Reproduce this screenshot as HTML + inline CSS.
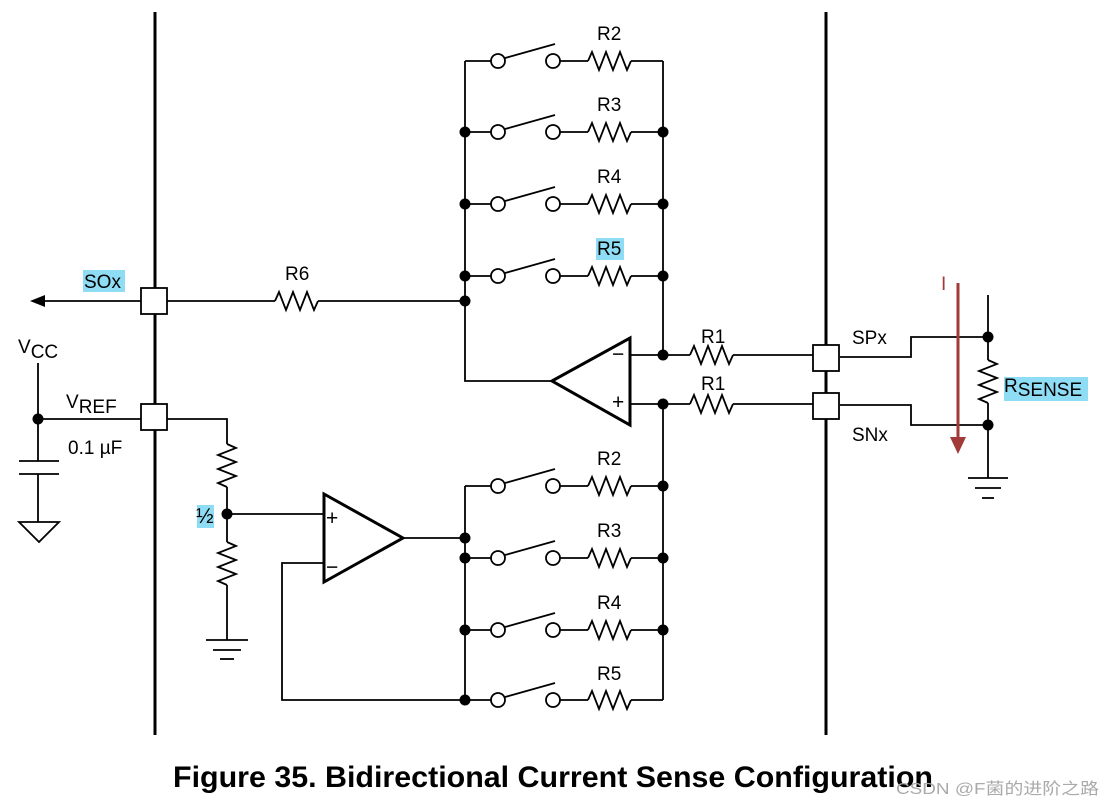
<!DOCTYPE html>
<html><head><meta charset="utf-8"><style>
html,body{margin:0;padding:0;background:#fff;}
svg{display:block;}
text{font-family:"Liberation Sans",Arial,sans-serif;font-size:19px;fill:#000;}
</style></head><body>
<svg width="1114" height="806" viewBox="0 0 1114 806" xmlns="http://www.w3.org/2000/svg">
<defs>
<g id="row">
  <line x1="0" y1="0" x2="26" y2="0"/>
  <circle cx="33" cy="0" r="7" fill="#fff"/>
  <line x1="40" y1="-3" x2="90" y2="-17"/>
  <circle cx="88" cy="0" r="7" fill="#fff"/>
  <line x1="95" y1="0" x2="123" y2="0"/>
  <path d="M123 0 l4 -9 l7 18 l7 -18 l7 18 l7 -18 l7 18 l4 -9" fill="none"/>
  <line x1="166" y1="0" x2="198" y2="0"/>
</g>
<path id="hres" d="M0 0 l4 -9 l7 18 l7 -18 l7 18 l7 -18 l7 18 l4 -9" fill="none"/>
<path id="vres" d="M0 0 l9 4 l-18 7 l18 7 l-18 7 l18 7 l-18 7 l9 4" fill="none"/>
</defs>
<g stroke="#000" stroke-width="1.8" fill="none">
<line x1="155" y1="12" x2="155" y2="735" stroke-width="3"/>
<line x1="826" y1="12" x2="826" y2="735" stroke-width="3"/>

<use href="#row" x="465" y="61"/>
<use href="#row" x="465" y="132"/>
<use href="#row" x="465" y="204"/>
<use href="#row" x="465" y="276"/>
<polyline points="465,61 465,381 552,381"/>
<line x1="663" y1="61" x2="663" y2="355"/>

<line x1="155" y1="301" x2="275" y2="301"/>
<use href="#hres" x="275" y="301"/>
<line x1="318" y1="301" x2="465" y2="301"/>
<line x1="141" y1="301" x2="42" y2="301"/>
<path d="M30 301 L45 295 L45 307 Z" fill="#000" stroke="none"/>

<path d="M552 381 L630 338 L630 425 Z" stroke-width="3" fill="#fff"/>
<line x1="630" y1="355" x2="690" y2="355"/>
<line x1="630" y1="404" x2="690" y2="404"/>
<use href="#hres" x="690" y="355"/>
<use href="#hres" x="690" y="404"/>
<line x1="733" y1="355" x2="813" y2="355"/>
<line x1="733" y1="404" x2="813" y2="404"/>
<line x1="663" y1="404" x2="663" y2="700"/>

<use href="#row" x="465" y="486"/>
<use href="#row" x="465" y="558"/>
<use href="#row" x="465" y="630"/>
<use href="#row" x="465" y="700"/>
<line x1="465" y1="486" x2="465" y2="700"/>

<path d="M403 538 L324 494 L324 582 Z" stroke-width="3" fill="#fff"/>
<line x1="403" y1="538" x2="465" y2="538"/>
<polyline points="324,563 282,563 282,700 465,700"/>
<line x1="227" y1="514" x2="324" y2="514"/>

<polyline points="167,419 227,419 227,444"/>
<use href="#vres" x="227" y="444"/>
<line x1="227" y1="487" x2="227" y2="542"/>
<use href="#vres" x="227" y="542"/>
<line x1="227" y1="585" x2="227" y2="640"/>
<line x1="206" y1="640" x2="248" y2="640"/>
<line x1="213" y1="650" x2="241" y2="650"/>
<line x1="220" y1="659" x2="234" y2="659"/>

<line x1="38" y1="363" x2="38" y2="461"/>
<line x1="38" y1="419" x2="141" y2="419"/>
<line x1="19" y1="461" x2="59" y2="461"/>
<line x1="19" y1="474" x2="59" y2="474"/>
<line x1="38" y1="474" x2="38" y2="522"/>
<path d="M19 522 L59 522 L39 542 Z"/>

<polyline points="840,357 911,357 911,337 988,337"/>
<polyline points="840,405 911,405 911,425 988,425"/>
<line x1="988" y1="295" x2="988" y2="360"/>
<use href="#vres" x="988" y="360"/>
<line x1="988" y1="403" x2="988" y2="478"/>
<line x1="968" y1="478" x2="1008" y2="478"/>
<line x1="975" y1="488" x2="1001" y2="488"/>
<line x1="982" y1="498" x2="994" y2="498"/>

<rect x="141" y="288" width="26" height="26" fill="#fff"/>
<rect x="141" y="404" width="26" height="26" fill="#fff"/>
<rect x="813" y="345" width="26" height="26" fill="#fff"/>
<rect x="813" y="393" width="26" height="26" fill="#fff"/>
</g>

<g fill="#000">
<circle cx="465" cy="132" r="5.5"/><circle cx="465" cy="204" r="5.5"/><circle cx="465" cy="276" r="5.5"/><circle cx="465" cy="301" r="5.5"/>
<circle cx="663" cy="132" r="5.5"/><circle cx="663" cy="204" r="5.5"/><circle cx="663" cy="276" r="5.5"/><circle cx="663" cy="355" r="5.5"/><circle cx="663" cy="404" r="5.5"/>
<circle cx="465" cy="538" r="5.5"/><circle cx="465" cy="558" r="5.5"/><circle cx="465" cy="630" r="5.5"/><circle cx="465" cy="700" r="5.5"/>
<circle cx="663" cy="486" r="5.5"/><circle cx="663" cy="558" r="5.5"/><circle cx="663" cy="630" r="5.5"/>
<circle cx="227" cy="514" r="5.5"/><circle cx="38" cy="419" r="5.5"/>
<circle cx="988" cy="337" r="5.5"/><circle cx="988" cy="425" r="5.5"/>
</g>

<line x1="958" y1="283" x2="958" y2="440" stroke="#a33a3a" stroke-width="3"/>
<path d="M950 437 L966 437 L958 454 Z" fill="#a33a3a"/>
<text x="941" y="290" style="fill:#a33a3a">I</text>

<rect x="83" y="270" width="42" height="22" fill="#8fdcf5"/>
<rect x="596" y="238" width="28" height="22" fill="#8fdcf5"/>
<rect x="1004" y="377" width="84" height="24" fill="#8fdcf5"/>
<rect x="197" y="505" width="17" height="23" fill="#8fdcf5"/>

<text x="597" y="40">R2</text>
<text x="597" y="111">R3</text>
<text x="597" y="183">R4</text>
<text x="597" y="255">R5</text>
<text x="597" y="465">R2</text>
<text x="597" y="537">R3</text>
<text x="597" y="609">R4</text>
<text x="597" y="680">R5</text>
<text x="285" y="280">R6</text>
<text x="701" y="343">R1</text>
<text x="701" y="390">R1</text>
<text x="84" y="288">SOx</text>
<text x="18" y="353">V<tspan dy="5">CC</tspan></text>
<text x="66" y="408">V<tspan dy="5">REF</tspan></text>
<text x="68" y="454">0.1 µF</text>
<text x="196" y="523" style="font-size:21px">½</text>
<text x="852" y="344">SPx</text>
<text x="852" y="441">SNx</text>
<text x="1004" y="392">R<tspan dy="4">SENSE</tspan></text>
<text x="612" y="361" style="font-size:21px">−</text>
<text x="612" y="409" style="font-size:21px">+</text>
<text x="326" y="525" style="font-size:21px">+</text>
<text x="326" y="574" style="font-size:21px">−</text>

<text x="173" y="787" textLength="760" lengthAdjust="spacingAndGlyphs" style="font-size:30px;font-weight:bold">Figure 35.  Bidirectional Current Sense Configuration</text>
<text x="896" y="794" textLength="203" lengthAdjust="spacingAndGlyphs" style="font-family:'Liberation Sans','Noto Sans CJK SC',sans-serif;font-size:16px;fill:#aaa">CSDN @F菌的进阶之路</text>
</svg>
</body></html>
